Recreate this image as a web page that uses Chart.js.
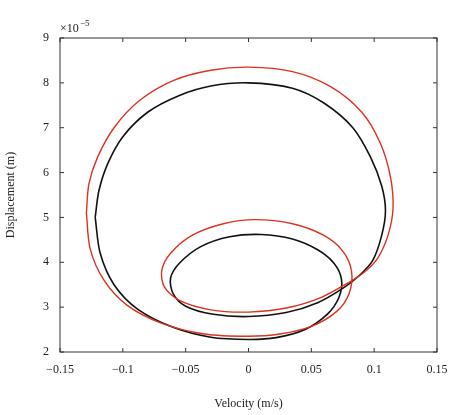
<!DOCTYPE html><html><head><script src="https://cdn.jsdelivr.net/npm/chart.js@4"></script>
<style>html,body{margin:0;background:#fff}#w{width:474px;height:415px}</style></head><body><div id="w"><canvas id="c"></canvas></div>
<script>
const blackX=[-0.122,-0.119,-0.112,-0.1,-0.08,-0.055,-0.03,0,0.035,0.06,0.083,0.097,0.106,0.109,0.106,0.099,0.088,0.075,0.055,0.03,0,-0.028,-0.05,-0.06,-0.062,-0.055,-0.038,-0.015,0.01,0.035,0.055,0.068,0.074,0.072,0.063,0.045,0.022,0,-0.03,-0.06,-0.088,-0.107,-0.118,-0.122];
const blackY=[5.0,5.6,6.2,6.8,7.35,7.72,7.93,8.0,7.88,7.55,7.0,6.35,5.7,5.15,4.6,4.05,3.7,3.42,3.1,2.88,2.79,2.84,3.02,3.3,3.65,3.98,4.35,4.57,4.62,4.52,4.28,3.98,3.62,3.22,2.85,2.5,2.32,2.28,2.33,2.55,2.95,3.5,4.2,5.0];
const redX=[-0.129,-0.127,-0.12,-0.107,-0.087,-0.06,-0.03,0,0.035,0.065,0.09,0.105,0.113,0.115,0.111,0.103,0.093,0.081,0.058,0.03,0,-0.03,-0.055,-0.067,-0.069,-0.062,-0.045,-0.02,0.005,0.035,0.06,0.075,0.082,0.08,0.07,0.05,0.025,0,-0.035,-0.07,-0.097,-0.115,-0.126,-0.129];
const redY=[5.1,5.75,6.35,7.0,7.6,8.05,8.28,8.35,8.25,7.92,7.35,6.65,5.9,5.2,4.6,4.1,3.8,3.57,3.22,2.98,2.89,2.94,3.15,3.45,3.82,4.2,4.6,4.86,4.95,4.86,4.6,4.25,3.8,3.3,2.9,2.57,2.4,2.35,2.4,2.65,3.05,3.6,4.3,5.1];
const xTicks=["\u22120.15","\u22120.1","\u22120.05","0","0.05","0.1","0.15"];
const yTicks=["2","3","4","5","6","7","8","9"];
const mk=(xs,ys)=>xs.map((x,i)=>({x,y:ys[i]}));
const F="'Liberation Serif', serif";
const frame={id:'frame',afterDraw(ch){const c=ch.ctx,a=ch.chartArea,sx=ch.scales.x,sy=ch.scales.y;c.save();c.strokeStyle='#333';c.lineWidth=1;c.strokeRect(a.left,a.top,a.right-a.left,a.bottom-a.top);c.beginPath();
for(let i=-0.15;i<=0.1501;i+=0.05){const p=sx.getPixelForValue(i);c.moveTo(p,a.bottom);c.lineTo(p,a.bottom-4);c.moveTo(p,a.top);c.lineTo(p,a.top+4);}
for(let v=2;v<=9;v++){const p=sy.getPixelForValue(v);c.moveTo(a.left,p);c.lineTo(a.left+4,p);c.moveTo(a.right,p);c.lineTo(a.right-4,p);}
c.stroke();c.fillStyle='#222';c.font='12px '+F;c.fillText('\u00d710',a.left,a.top-6);c.font='9px '+F;c.fillText('\u22125',a.left+20,a.top-12);c.restore();}};
new Chart(document.getElementById('c'),{type:'scatter',data:{datasets:[
{data:mk(redX,redY),showLine:true,borderColor:'#e0301e',borderWidth:1.4,pointRadius:0,tension:0.3},
{data:mk(blackX,blackY),showLine:true,borderColor:'#111',borderWidth:1.6,pointRadius:0,tension:0.3}]},
options:{animation:false,responsive:true,maintainAspectRatio:false,layout:{padding:{top:38,right:37}},
plugins:{legend:{display:false},tooltip:{enabled:false}},
scales:{x:{min:-0.15,max:0.15,afterBuildTicks(s){s.ticks=[-0.15,-0.1,-0.05,0,0.05,0.1,0.15].map(v=>({value:v}));},
ticks:{color:'#222',font:{family:F,size:12},callback:(v,i)=>xTicks[i],maxRotation:0},grid:{display:false},border:{display:false},
title:{display:true,text:'Velocity (m/s)',color:'#222',font:{family:F,size:12},padding:{top:4}},afterFit(s){s.height=63;}},
y:{min:2,max:9,afterBuildTicks(s){s.ticks=[2,3,4,5,6,7,8,9].map(v=>({value:v}));},ticks:{color:'#222',font:{family:F,size:12},callback:(v,i)=>yTicks[i]},grid:{display:false},border:{display:false},
title:{display:true,text:'Displacement (m)',color:'#222',font:{family:F,size:12}},afterFit(s){s.height;s.width=60;}}}},plugins:[frame]});
</script></body></html>
